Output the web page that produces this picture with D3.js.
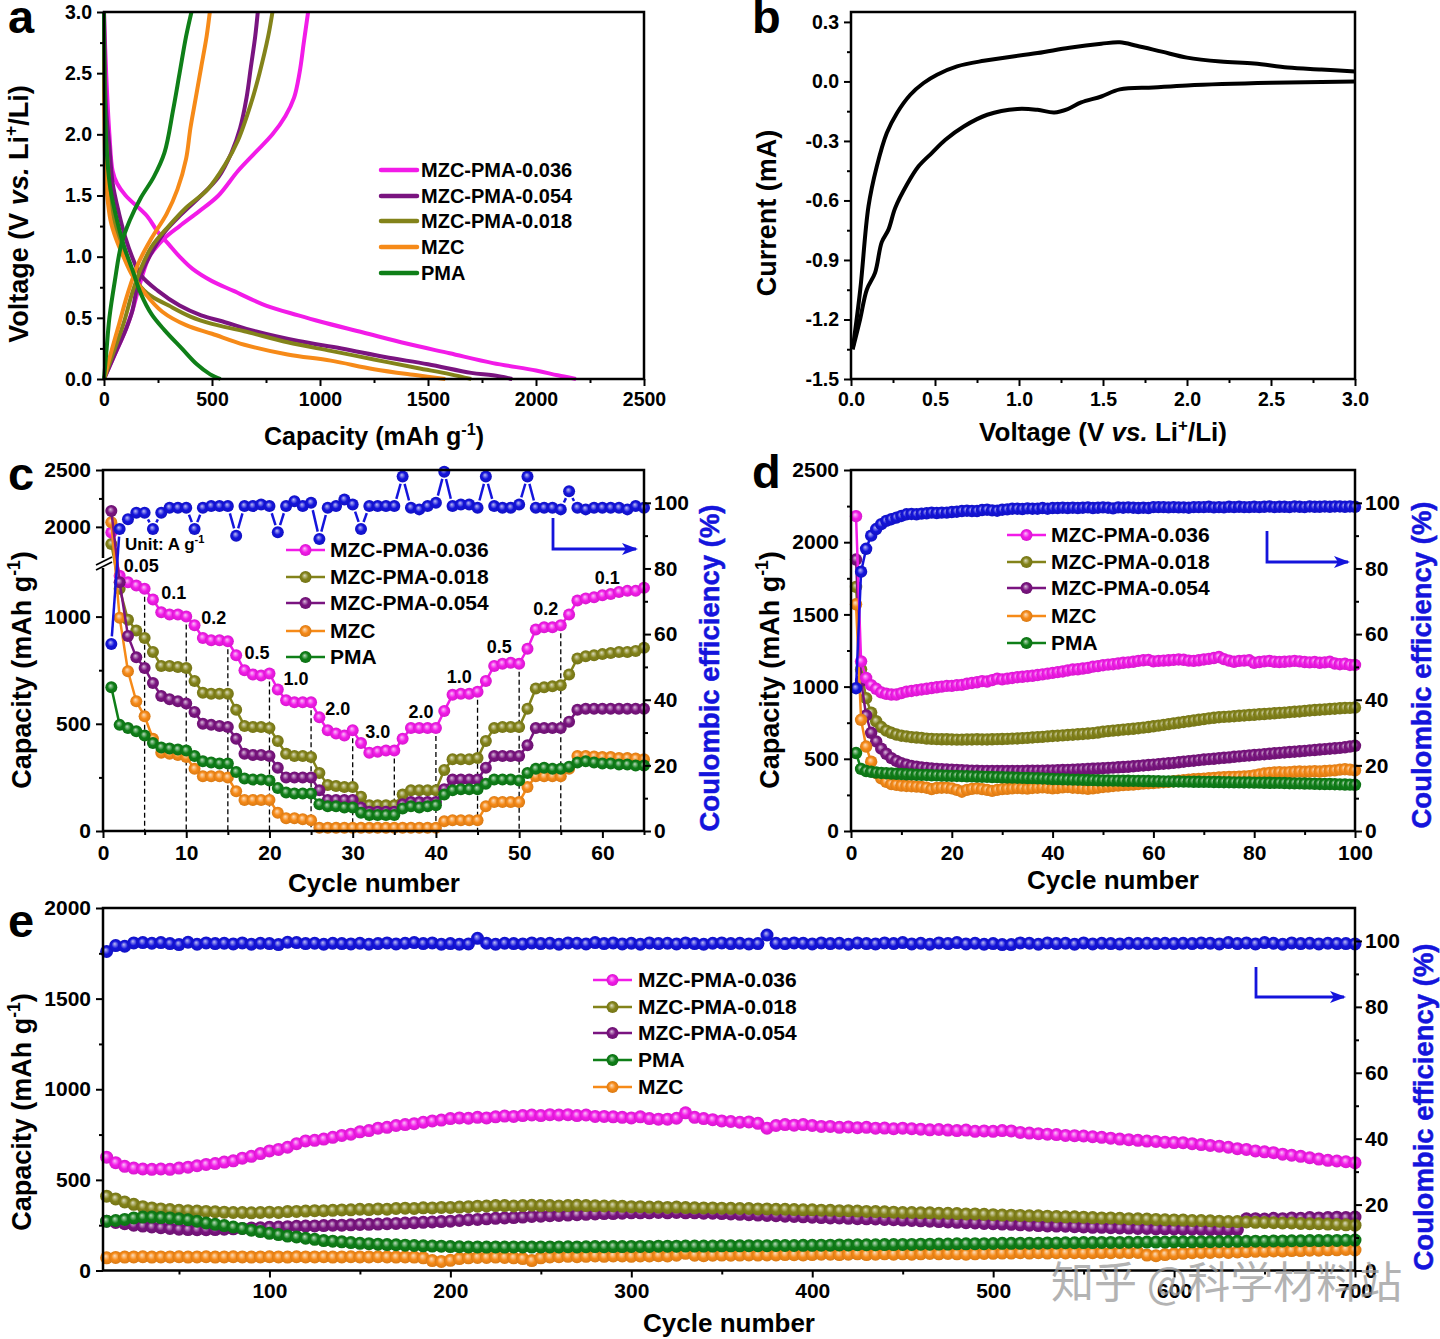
<!DOCTYPE html>
<html>
<head>
<meta charset="utf-8">
<script src="https://cdn.jsdelivr.net/npm/d3@7"></script>
<style>
  html, body { margin: 0; padding: 0; background: #fff; }
  text { font-family: "Liberation Sans", Arial, sans-serif; font-weight: bold; fill: #000; }
</style>
</head>
<body>
<div id="chart"></div>
<script>
// panel a: [capacity, voltage]
const aDis036 = [[0,3],[10,2.5],[25,2],[40,1.7],[60,1.6],[100,1.5],[200,1.33],[250,1.2],[300,1.1],[350,1],[410,0.9],[500,0.8],[600,0.72],[750,0.6],[900,0.52],[1000,0.47],[1200,0.38],[1400,0.29],[1600,0.21],[1800,0.13],[2000,0.07],[2100,0.03],[2185,0]];
const aCha036 = [[0,0],[50,0.2],[100,0.4],[130,0.55],[170,0.8],[210,1],[280,1.15],[350,1.25],[440,1.37],[530,1.5],[620,1.7],[700,1.85],[780,2],[840,2.15],[880,2.3],[905,2.5],[925,2.75],[945,3]];
const aDis054 = [[0,3],[10,2.2],[25,1.9],[40,1.6],[70,1.35],[100,1.15],[130,1],[170,0.85],[250,0.72],[350,0.6],[450,0.52],[550,0.47],[700,0.39],[900,0.31],[1100,0.25],[1300,0.18],[1500,0.12],[1700,0.05],[1800,0.03],[1890,0]];
const aCha054 = [[0,0],[50,0.2],[100,0.4],[130,0.55],[160,0.8],[210,1],[280,1.2],[360,1.35],[450,1.5],[530,1.65],[590,1.85],[630,2.05],[660,2.3],[680,2.55],[700,2.8],[712,3]];
const aDis018 = [[0,3],[5,2.1],[20,1.7],[35,1.4],[60,1.2],[100,0.98],[140,0.83],[200,0.7],[300,0.6],[400,0.51],[500,0.45],[650,0.39],[850,0.3],[1050,0.23],[1250,0.16],[1450,0.09],[1600,0.04],[1700,0]];
const aCha018 = [[0,0],[40,0.2],[90,0.45],[130,0.7],[170,0.9],[220,1.08],[300,1.25],[380,1.4],[480,1.55],[560,1.75],[620,1.95],[680,2.25],[720,2.5],[760,2.8],[780,3]];
const aDisMZC = [[0,3],[5,1.8],[15,1.5],[30,1.3],[55,1.15],[90,1],[130,0.85],[190,0.7],[270,0.55],[380,0.44],[500,0.37],[650,0.28],[850,0.2],[1050,0.15],[1250,0.08],[1450,0.03],[1580,0]];
const aChaMZC = [[0,0],[30,0.2],[70,0.45],[110,0.7],[160,0.95],[220,1.15],[290,1.35],[340,1.55],[380,1.8],[400,2.05],[425,2.3],[450,2.55],[475,2.8],[490,3]];
const aDisPMA = [[0,3],[5,2.2],[15,1.8],[30,1.55],[60,1.3],[90,1.1],[130,0.9],[170,0.7],[220,0.53],[280,0.4],[360,0.25],[430,0.12],[490,0.04],[540,0]];
const aChaPMA = [[0,0],[10,0.2],[25,0.5],[50,0.8],[80,1.1],[120,1.3],[170,1.48],[230,1.65],[280,1.85],[320,2.2],[350,2.5],[380,2.8],[405,3]];

// panel b: [voltage, current], the two branches of the CV loop
const cvUpper = [[0.01,-1.35],[0.055,-1.05],[0.104,-0.63],[0.153,-0.43],[0.213,-0.26],[0.273,-0.16],[0.353,-0.067],[0.432,-0.008],[0.512,0.034],[0.631,0.076],[0.79,0.104],[1.11,0.143],[1.3,0.17],[1.49,0.19],[1.6,0.197],[1.7,0.18],[1.85,0.15],[2,0.12],[2.2,0.1],[2.4,0.09],[2.6,0.07],[2.8,0.06],[3,0.05]];
const cvLower = [[3,0],[2.5,-0.007],[2,-0.02],[1.8,-0.03],[1.6,-0.04],[1.49,-0.076],[1.37,-0.106],[1.29,-0.139],[1.21,-0.156],[1.11,-0.143],[0.99,-0.139],[0.811,-0.168],[0.671,-0.227],[0.562,-0.294],[0.482,-0.36],[0.402,-0.428],[0.333,-0.52],[0.263,-0.638],[0.223,-0.747],[0.183,-0.81],[0.143,-0.965],[0.094,-1.05],[0.054,-1.2],[0.01,-1.35]];

// panel c: rate test, cycles 1-65
const c036 = [1950,1190,1160,1145,1130,1080,1020,1010,1010,1000,960,900,890,890,885,820,750,730,725,735,660,610,600,600,600,530,470,455,445,470,410,365,370,375,375,430,480,480,480,480,560,635,640,640,650,700,770,780,785,780,850,940,950,950,960,1010,1075,1085,1090,1100,1105,1115,1120,1120,1135];
const c018 = [1850,1130,985,935,900,835,770,770,765,760,700,645,640,640,640,565,490,485,485,480,420,360,350,350,345,270,215,210,205,205,160,120,120,120,120,170,190,190,190,190,285,335,335,335,340,420,480,485,485,485,570,665,670,675,680,730,805,815,820,825,830,835,835,840,855];
const c054 = [2140,1160,910,810,760,690,630,615,605,595,555,500,495,490,485,430,360,355,355,350,295,250,250,250,250,190,145,145,145,145,110,90,90,90,90,125,135,135,135,135,195,240,240,240,240,295,350,350,350,350,400,480,480,480,480,510,565,570,570,570,570,570,570,570,570];
const cMZC = [2040,995,745,605,535,430,365,360,355,345,290,255,255,255,250,185,145,145,145,145,85,60,60,55,50,15,15,15,15,15,15,15,15,15,15,15,15,15,15,15,45,50,50,50,50,115,135,135,135,135,205,255,255,255,255,290,350,350,348,345,345,340,340,338,335];
const cPMA = [670,495,480,465,445,410,390,385,380,375,350,325,320,315,315,275,245,240,240,235,200,180,175,175,175,125,115,115,110,110,85,75,75,75,75,105,115,110,115,120,170,190,195,195,195,220,240,240,240,235,270,290,295,290,290,300,320,325,320,315,315,310,310,305,305];
const cCE = [57,92,95,97,97,92,97,98.5,98.5,98.5,92,98.5,99,99,99,90,99,99,99.5,99,91,99,100.5,99,100,89,98.5,99,101,99.5,92,99,99,99,99,108,98.5,98,99,100,109.5,99,99.5,99.5,98.5,108,99,98.5,98.5,99.5,108,98.5,98.5,98.5,98,103.5,98.5,98,98.5,98.5,98.5,98.5,98,99,98.5];
const rateLabels = ['0.05','0.1','0.2','0.5','1.0','2.0','3.0','2.0','1.0','0.5','0.2','0.1'];
const rateCycles = [4.6,8.5,13.3,18.5,23.2,28.2,33,38.2,42.8,47.6,53.2,60.6];
const rateCaps = [1238,1112,995,832,710,570,463,556,720,860,1037,1182];
const rateSwitches = [5,10,15,20,25,30,35,40,45,50,55];

// panel d: cycling at low rate, cycles 1-100
const d036 = [2180,1175,1060,1010,985,960,950,945,945,955,
  965,970,975,980,985,990,995,1000,1005,1005,
  1010,1012,1020,1025,1030,1038,1035,1045,1055,1050,
  1055,1060,1065,1068,1072,1075,1080,1085,1090,1095,
  1100,1105,1112,1118,1120,1125,1130,1138,1142,1148,
  1152,1155,1160,1165,1168,1172,1178,1182,1185,1175,
  1178,1180,1182,1185,1188,1186,1180,1178,1182,1188,
  1192,1198,1205,1190,1180,1172,1178,1180,1182,1165,
  1170,1175,1178,1172,1170,1172,1175,1178,1175,1170,
  1168,1170,1165,1168,1172,1160,1155,1158,1150,1150];
const d018 = [1690,1120,920,820,760,720,695,680,668,660,
  655,650,647,645,640,638,636,635,635,634,
  633,633,634,634,635,634,634,635,636,637,
  638,640,641,643,645,648,650,652,655,658,
  660,662,665,667,670,672,675,678,682,688,
  692,695,698,702,705,708,712,716,720,725,
  730,735,740,745,750,755,760,765,770,775,
  780,784,788,790,792,795,798,800,803,805,
  808,810,813,815,818,820,823,826,828,832,
  835,838,840,842,845,847,850,852,853,855];
const d054 = [1880,1040,800,680,620,570,535,505,485,470,
  460,450,445,440,436,433,430,428,426,425,
  423,421,420,418,417,416,416,415,415,415,
  415,415,416,416,417,417,418,418,419,420,
  421,422,423,425,426,428,430,431,433,435,
  437,439,441,443,445,448,451,454,457,460,
  463,466,469,472,476,480,484,487,491,495,
  498,500,504,507,510,514,517,520,523,526,
  529,532,535,538,541,544,547,549,552,555,
  558,561,564,567,570,573,576,580,585,590];
const dMZC = [1570,770,585,480,400,365,340,325,320,315,
  312,310,308,305,300,290,298,300,300,295,
  285,272,285,292,295,290,285,278,285,290,
  292,295,298,296,294,298,300,302,300,296,
  298,302,305,300,298,296,292,296,300,305,
  308,312,315,318,320,322,325,328,330,332,
  335,338,340,345,348,352,355,358,360,362,
  365,368,370,372,374,375,376,378,380,385,
  392,398,402,405,408,405,408,410,412,410,
  412,414,412,415,418,420,425,428,425,420];
const dPMA = [540,430,415,410,405,402,400,398,396,395,
  393,392,390,389,388,386,385,384,383,382,
  381,380,379,378,377,376,375,374,373,372,
  371,370,369,368,367,366,365,364,362,360,
  359,358,357,356,355,354,353,352,351,350,
  350,349,349,348,348,347,347,346,346,345,
  345,344,344,343,343,342,342,341,341,340,
  340,339,339,338,338,337,337,336,336,335,
  335,334,334,333,333,332,331,330,330,329,
  328,327,326,325,325,324,323,322,321,320];
const dCE = [43.5,79,86,90,92,93.5,94.5,95,95.5,96,
  96.5,96.6,96.5,96.7,96.8,97,96.9,97,97,97.2,
  97.3,97.5,97.6,97.5,97.5,97.8,97.9,97.7,97.6,97.9,
  98,98.2,98.2,98.1,98.3,98.2,98.2,98.4,98.2,98.4,
  98.4,98.5,98.4,98.5,98.4,98.5,98.6,98.4,98.5,98.6,
  98.5,98.3,98.6,98.5,98.6,98.5,98.4,98.5,98.4,98.7,
  98.7,98.7,98.6,98.7,98.6,98.6,98.5,98.7,98.7,98.7,
  98.8,98.6,98.7,98.6,98.8,98.7,98.8,98.7,98.7,98.8,
  98.7,98.8,98.9,98.7,98.8,98.8,98.7,98.9,98.8,98.7,
  98.9,98.8,98.8,98.9,98.8,98.9,98.9,98.8,98.9,98.8];

// panel e: long cycling, read every 5th cycle from 10 to 700
const e036 = [625,595,575,565,560,558,560,558,565,570,
  578,585,590,598,605,620,630,645,660,668,
  680,700,715,718,725,735,745,752,765,772,
  785,790,800,805,810,818,825,830,838,842,
  840,845,842,848,852,850,855,858,855,860,
  858,860,855,858,850,850,848,845,842,848,
  838,835,835,840,870,845,838,832,825,822,
  818,820,812,785,800,805,802,805,800,795,
  795,790,792,788,790,785,786,782,785,782,
  780,776,778,775,772,775,768,770,768,772,
  770,762,758,755,752,750,745,744,742,738,
  735,730,725,722,718,714,712,708,706,705,
  700,695,690,686,680,672,668,660,655,650,
  642,636,630,622,615,608,604,600,595];
const e018 = [410,395,378,365,352,345,340,336,332,330,
  328,326,324,322,320,320,318,320,322,320,
  325,326,328,330,330,332,334,335,338,336,
  340,338,342,344,342,346,345,348,348,350,
  352,355,356,358,358,356,358,360,358,358,
  356,358,360,358,357,356,356,354,352,352,
  350,350,348,350,347,346,345,345,344,343,
  342,342,340,340,338,338,336,335,335,333,
  332,330,330,328,326,325,324,322,320,320,
  318,318,316,316,314,312,312,310,308,306,
  305,304,302,302,300,298,296,296,294,292,
  290,290,288,286,285,284,282,280,279,278,
  276,276,274,272,270,270,268,266,265,264,
  262,262,260,258,258,256,254,252,250];
const e054 = [272,265,258,250,245,240,236,232,228,226,
  225,225,226,228,230,232,234,236,238,240,
  242,244,245,246,248,250,250,252,254,255,
  256,258,260,262,264,266,268,270,272,276,
  280,282,285,288,290,292,295,298,300,302,
  304,306,308,310,312,314,314,316,318,318,
  318,320,318,320,318,318,316,316,314,312,
  310,308,306,304,302,300,298,296,294,292,
  290,290,288,286,285,284,282,280,278,276,
  274,272,270,268,266,264,262,260,258,256,
  255,252,250,248,246,245,244,242,240,238,
  238,236,235,234,232,232,230,230,229,228,
  228,227,226,226,225,225,285,286,284,288,
  286,290,288,292,290,292,294,292,295];
const ePMA = [272,276,282,290,295,295,292,290,285,280,
  272,262,255,248,240,232,222,215,205,198,
  190,185,178,172,165,162,158,154,150,148,
  145,143,142,140,138,136,135,134,132,131,
  130,130,129,130,129,130,130,129,130,130,
  130,131,130,131,132,131,132,132,133,133,
  133,134,134,134,135,135,135,135,136,136,
  136,137,137,137,138,138,138,139,139,140,
  140,141,141,142,142,142,143,143,144,144,
  145,145,146,146,147,147,148,148,149,150,
  150,150,151,151,152,152,153,153,154,154,
  155,155,155,156,156,157,157,157,158,158,
  158,159,159,160,160,161,161,162,162,163,
  163,164,164,165,165,166,166,167,168];
const eMZC = [70,72,74,75,76,74,75,75,76,74,
  75,76,74,75,76,75,74,75,76,75,
  74,76,75,75,76,74,75,76,75,75,
  76,75,74,75,74,70,55,50,56,66,
  70,72,72,74,72,70,66,55,70,75,
  76,78,76,78,80,78,80,80,78,80,
  80,82,80,84,95,84,82,84,85,84,
  85,86,85,86,86,88,87,86,88,90,
  90,88,90,92,88,90,92,90,92,90,
  92,94,92,94,92,90,92,94,95,96,
  96,98,96,98,96,98,97,98,97,98,
  99,98,100,99,100,85,82,88,92,95,
  98,100,100,102,100,102,104,106,106,108,
  108,110,110,112,112,114,114,116,113];
const eCE = [96.8,98.6,98.4,99.4,99.5,99.3,99.5,99.2,98.9,99.6,
  99,99.4,99.2,99.3,99.1,99.4,99,99.3,99.2,98.9,
  99.6,99.5,99.2,99.3,99,99.3,99.2,99.1,99.3,99,
  99.2,99.4,99.1,99.3,99.5,99.2,99.4,99,99.2,99,
  99.1,100.8,99.3,99,99.3,99.2,99.1,99.4,99.2,99.3,
  99,99.4,99.3,99.1,99.5,99.2,99.4,99.1,99.3,99,
  99.4,99.2,99.3,99.1,99.4,99.2,99,99.3,99.4,99.2,
  99.3,99.1,99.2,101.8,99.3,99.2,99.4,99.3,99.1,99.4,
  99.2,99.3,99,99.4,99.2,99.1,99.4,99.2,99.5,99.1,
  99.3,99,99.4,99.2,99.5,99.1,99.3,99,99.2,98.9,
  98.9,99.4,99.3,99,99.4,99.2,99.3,99,99.4,99.1,
  99.3,99.2,99.1,99.3,99.2,99.3,99.2,99.3,99.2,99.3,
  99.2,99.4,99.3,99.1,99.5,99.2,99.4,99.1,99.5,99.3,
  99,99.4,99.2,99.3,99.1,99.3,99.2,99.2,99.1];

const colors = { m036: '#f21be8', m018: '#83831a', m054: '#7a1480', mzc: '#f68a18', pma: '#0f7f18', ce: '#1414dc' };
const FONT_CJK = '"Noto Sans CJK SC", "Noto Sans", sans-serif';

const svg = d3.select('#chart').append('svg')
  .attr('width', 1440)
  .attr('height', 1339)
  .style('display', 'block');

// shaded ball used for all symbols
const defs = svg.append('defs');
Object.entries(colors).forEach(([key, c]) => {
  const grad = defs.append('radialGradient')
    .attr('id', `ball-${key}`)
    .attr('cx', '50%').attr('cy', '50%').attr('r', '50%')
    .attr('fx', '42%').attr('fy', '36%');
  grad.append('stop').attr('offset', '0%').attr('stop-color', d3.interpolateRgb(c, '#fff')(0.72));
  grad.append('stop').attr('offset', '55%').attr('stop-color', c);
  grad.append('stop').attr('offset', '100%').attr('stop-color', d3.color(c).darker(0.35));
});

function addAxis(scale, orient, translate, majors, minors, fmt, padding, fontSize = 21) {
  const make = { left: d3.axisLeft, right: d3.axisRight, bottom: d3.axisBottom }[orient];
  const g = svg.append('g').attr('transform', translate);
  g.append('g')
    .call(make(scale).tickValues(minors).tickSize(4).tickFormat(''))
    .call(a => a.select('.domain').remove())
    .call(a => a.selectAll('line').attr('stroke', '#000').attr('stroke-width', 2));
  g.append('g')
    .call(make(scale).tickValues(majors).tickSize(7).tickPadding(padding).tickFormat(fmt))
    .call(a => a.select('.domain').remove())
    .call(a => a.selectAll('line').attr('stroke', '#000').attr('stroke-width', 2))
    .call(a => a.selectAll('text').style('font-size', fontSize + 'px').attr('fill', '#000'));
}

function drawFrame(x0, x1, y0, y1) {
  svg.append('rect')
    .attr('x', x0).attr('y', y1)
    .attr('width', x1 - x0).attr('height', y0 - y1)
    .attr('fill', 'none').attr('stroke', '#000').attr('stroke-width', 2.5);
}

// text with italic and superscript runs; parts are strings or {t, sup, it}
function richText(x, y, parts, size, opts = {}) {
  const t = svg.append('text')
    .attr('transform', `translate(${x},${y}) rotate(${opts.rotate || 0})`)
    .attr('text-anchor', opts.anchor || 'middle')
    .style('font-size', size + 'px')
    .style('fill', opts.fill || '#000')
    .style('stroke', opts.heavy ? (opts.fill || '#000') : 'none')
    .style('stroke-width', opts.heavy ? 0.5 : 0);
  let afterSup = false;
  parts.forEach(p => {
    const part = typeof p === 'string' ? { t: p } : p;
    const span = t.append('tspan').text(part.t);
    if (part.it) span.style('font-style', 'italic');
    if (part.sup) {
      span.attr('dy', -size * 0.4).style('font-size', (size * 0.65) + 'px');
      afterSup = true;
    } else if (afterSup) {
      span.attr('dy', size * 0.4);
      afterSup = false;
    }
  });
  return t;
}

function panelLetter(letter, x, y) {
  svg.append('text').attr('x', x).attr('y', y).text(letter).style('font-size', '47px');
}

function drawLine(points, xs, ys, color, width, curve) {
  const line = d3.line().x(d => xs(d[0])).y(d => ys(d[1]));
  if (curve) line.curve(curve);
  svg.append('path')
    .datum(points)
    .attr('fill', 'none')
    .attr('stroke', color)
    .attr('stroke-width', width)
    .attr('stroke-linejoin', 'round')
    .attr('d', line);
}

function drawSeries(cycles, values, xs, ys, key, r) {
  const pts = cycles.map((c, i) => [c, values[i]]);
  drawLine(pts, xs, ys, colors[key], 2.5);
  svg.append('g').selectAll('circle')
    .data(pts)
    .join('circle')
    .attr('cx', d => xs(d[0]))
    .attr('cy', d => ys(d[1]))
    .attr('r', r)
    .attr('fill', `url(#ball-${key})`);
}

// same, but the line stops short of each symbol as in the source plot
function drawGapSeries(cycles, values, xs, ys, key, r, gap) {
  const pts = cycles.map((c, i) => [xs(c), ys(values[i])]);
  const segs = d3.pairs(pts).filter(([a, b]) => Math.hypot(b[0] - a[0], b[1] - a[1]) > 2 * (r + gap));
  svg.append('g').selectAll('line')
    .data(segs)
    .join('line')
    .attr('stroke', colors[key])
    .attr('stroke-width', 2.5)
    .each(function([a, b]) {
      const len = Math.hypot(b[0] - a[0], b[1] - a[1]);
      const ux = (b[0] - a[0]) / len, uy = (b[1] - a[1]) / len;
      d3.select(this)
        .attr('x1', a[0] + ux * (r + gap)).attr('y1', a[1] + uy * (r + gap))
        .attr('x2', b[0] - ux * (r + gap)).attr('y2', b[1] - uy * (r + gap));
    });
  svg.append('g').selectAll('circle')
    .data(pts)
    .join('circle')
    .attr('cx', d => d[0]).attr('cy', d => d[1]).attr('r', r)
    .attr('fill', `url(#ball-${key})`);
}

function legend(entries, x0, x1, textX, ys, size, markerR) {
  entries.forEach((e, i) => {
    svg.append('line')
      .attr('x1', x0).attr('x2', x1).attr('y1', ys[i]).attr('y2', ys[i])
      .attr('stroke', colors[e[1]])
      .attr('stroke-width', markerR ? 2.5 : 4.5)
      .attr('stroke-linecap', markerR ? 'butt' : 'round');
    if (markerR) {
      svg.append('circle')
        .attr('cx', (x0 + x1) / 2).attr('cy', ys[i]).attr('r', markerR)
        .attr('fill', `url(#ball-${e[1]})`);
    }
    svg.append('text')
      .attr('x', textX).attr('y', ys[i]).attr('dy', '0.35em')
      .text(e[0]).style('font-size', size + 'px');
  });
}

function arrow(x, y0, y1, x1, color) {
  svg.append('path')
    .attr('d', `M${x},${y0}V${y1}H${x1}`)
    .attr('fill', 'none').attr('stroke', color).attr('stroke-width', 2.8);
  svg.append('path')
    .attr('d', `M${x1 + 2},${y1}L${x1 - 14},${y1 - 6}L${x1 - 10},${y1}L${x1 - 14},${y1 + 6}Z`)
    .attr('fill', color);
}

const smooth = d3.curveCatmullRom.alpha(0.5);

// ---- panel a
const xA = d3.scaleLinear().domain([0, 2500]).range([104, 644]);
const yA = d3.scaleLinear().domain([0, 3]).range([379, 12]);
[[aDis036, aCha036, 'm036'], [aDis054, aCha054, 'm054'], [aDis018, aCha018, 'm018'], [aDisMZC, aChaMZC, 'mzc'], [aDisPMA, aChaPMA, 'pma']]
  .forEach(([dis, cha, key]) => {
    drawLine(dis, xA, yA, colors[key], 4, smooth);
    drawLine(cha, xA, yA, colors[key], 4, smooth);
  });
drawFrame(104, 644, 379, 12);
addAxis(xA, 'bottom', 'translate(0,379)', [0, 500, 1000, 1500, 2000, 2500], [250, 750, 1250, 1750, 2250], d => d, 6, 19.5);
addAxis(yA, 'left', 'translate(104,0)', [0, 0.5, 1, 1.5, 2, 2.5, 3], [0.25, 0.75, 1.25, 1.75, 2.25, 2.75], d => d.toFixed(1), 5, 19.5);
legend([['MZC-PMA-0.036', 'm036'], ['MZC-PMA-0.054', 'm054'], ['MZC-PMA-0.018', 'm018'], ['MZC', 'mzc'], ['PMA', 'pma']],
  381, 417, 421, [170, 196, 221, 247, 273], 20);
richText(374, 445, ['Capacity (mAh g', { t: '-1', sup: true }, ')'], 25);
richText(28, 214, ['Voltage (V ', { t: 'vs.', it: true }, ' Li', { t: '+', sup: true }, '/Li)'], 27, { rotate: -90 });
panelLetter('a', 8, 33);

// ---- panel b
const xB = d3.scaleLinear().domain([0, 3]).range([851, 1355]);
const yB = d3.scaleLinear().domain([-1.5, 0.35]).range([379, 12]);
drawLine(cvUpper, xB, yB, '#000', 4, smooth);
drawLine(cvLower, xB, yB, '#000', 4, smooth);
drawFrame(851, 1355, 379, 12);
addAxis(xB, 'bottom', 'translate(0,379)', [0, 0.5, 1, 1.5, 2, 2.5, 3], [0.25, 0.75, 1.25, 1.75, 2.25, 2.75], d => d.toFixed(1), 6, 19.5);
addAxis(yB, 'left', 'translate(851,0)', [-1.5, -1.2, -0.9, -0.6, -0.3, 0, 0.3], [-1.35, -1.05, -0.75, -0.45, -0.15, 0.15], d => d.toFixed(1), 5, 19.5);
richText(1103, 441, ['Voltage (V ', { t: 'vs.', it: true }, ' Li', { t: '+', sup: true }, '/Li)'], 26);
richText(776, 213, ['Current (mA)'], 27, { rotate: -90 });
panelLetter('b', 752, 33);

// ---- panel c, capacity axis is broken between 1250 and 1700
const xC = d3.scaleLinear().domain([0, 65]).range([103, 644]);
const yC = d3.scaleLinear().domain([0, 1250, 1700, 2500]).range([831, 563, 561, 470]);
const yCE = d3.scaleLinear().domain([0, 110]).range([831, 470]);
const cyclesC = d3.range(1, 66);
rateSwitches.forEach(c => {
  svg.append('line')
    .attr('x1', xC(c)).attr('x2', xC(c))
    .attr('y1', yC(c036[c - 1])).attr('y2', yC(0))
    .attr('stroke', '#000').attr('stroke-width', 1.3).attr('stroke-dasharray', '5,3');
});
drawSeries(cyclesC, c018, xC, yC, 'm018', 6);
drawSeries(cyclesC, c036, xC, yC, 'm036', 6);
drawSeries(cyclesC, cMZC, xC, yC, 'mzc', 6);
drawSeries(cyclesC, c054, xC, yC, 'm054', 6);
drawSeries(cyclesC, cPMA, xC, yC, 'pma', 6);
drawGapSeries(cyclesC, cCE, xC, yCE, 'ce', 6, 1.5);
// frame with the break marks on the left side
svg.append('path')
  .attr('d', `M${xC(0)},${yC(1250) - 5}V470H644V831H${xC(0)}V${yC(1250) + 5}`)
  .attr('fill', 'none').attr('stroke', '#000').attr('stroke-width', 2.5);
[-2, 3].forEach(dy => {
  svg.append('line')
    .attr('x1', xC(0) - 7).attr('x2', xC(0) + 9)
    .attr('y1', yC(1250) + 4 + dy).attr('y2', yC(1250) - 4 + dy)
    .attr('stroke', '#000').attr('stroke-width', 1.8);
});
addAxis(xC, 'bottom', 'translate(0,831)', [0, 10, 20, 30, 40, 50, 60], [5, 15, 25, 35, 45, 55, 65], d => d, 7);
addAxis(yC, 'left', 'translate(103,0)', [0, 500, 1000, 2000, 2500], [250, 750, 2250], d => d, 5);
addAxis(yCE, 'right', 'translate(644,0)', [0, 20, 40, 60, 80, 100], [10, 30, 50, 70, 90], d => d, 3);
rateLabels.forEach((label, i) => {
  svg.append('text')
    .attr('x', xC(rateCycles[i])).attr('y', yC(rateCaps[i])).attr('dy', '0.35em')
    .attr('text-anchor', 'middle')
    .text(label).style('font-size', '18px');
});
richText(125, 550, ['Unit: A g', { t: '-1', sup: true }], 17, { anchor: 'start' });
arrow(553, 518, 549, 636, colors.ce);
legend([['MZC-PMA-0.036', 'm036'], ['MZC-PMA-0.018', 'm018'], ['MZC-PMA-0.054', 'm054'], ['MZC', 'mzc'], ['PMA', 'pma']],
  286, 325, 330, [550, 577, 603, 631, 657], 21, 6);
richText(374, 892, ['Cycle number'], 26);
richText(31, 670, ['Capacity (mAh g', { t: '-1', sup: true }, ')'], 27, { rotate: -90 });
richText(719, 668, ['Coulombic efficiency (%)'], 27.5, { rotate: -90, fill: colors.ce, heavy: true });
panelLetter('c', 8, 490);

// ---- panel d
const xD = d3.scaleLinear().domain([0, 100]).range([851, 1355]);
const yD = d3.scaleLinear().domain([0, 2500]).range([831, 470]);
const yDE = d3.scaleLinear().domain([0, 110]).range([831, 470]);
const cyclesD = d3.range(1, 101);
drawSeries(cyclesD, d018, xD, yD, 'm018', 6.2);
drawSeries(cyclesD, d054, xD, yD, 'm054', 6.2);
drawSeries(cyclesD, dMZC, xD, yD, 'mzc', 6.2);
drawSeries(cyclesD, dPMA, xD, yD, 'pma', 6.2);
drawSeries(cyclesD, d036, xD, yD, 'm036', 6.2);
drawSeries(cyclesD, dCE, xD, yDE, 'ce', 6.2);
drawFrame(851, 1355, 831, 470);
addAxis(xD, 'bottom', 'translate(0,831)', [0, 20, 40, 60, 80, 100], [10, 30, 50, 70, 90], d => d, 7);
addAxis(yD, 'left', 'translate(851,0)', [0, 500, 1000, 1500, 2000, 2500], [250, 750, 1250, 1750, 2250], d => d, 5);
addAxis(yDE, 'right', 'translate(1355,0)', [0, 20, 40, 60, 80, 100], [10, 30, 50, 70, 90], d => d, 3);
arrow(1267, 531, 562, 1348, colors.ce);
legend([['MZC-PMA-0.036', 'm036'], ['MZC-PMA-0.018', 'm018'], ['MZC-PMA-0.054', 'm054'], ['MZC', 'mzc'], ['PMA', 'pma']],
  1007, 1046, 1051, [535, 562, 588, 616, 643], 21, 6);
richText(1113, 889, ['Cycle number'], 26);
richText(779, 670, ['Capacity (mAh g', { t: '-1', sup: true }, ')'], 27, { rotate: -90 });
richText(1431, 665, ['Coulombic efficiency (%)'], 27.5, { rotate: -90, fill: colors.ce, heavy: true });
panelLetter('d', 752, 488);

// ---- panel e
const xE = d3.scaleLinear().domain([8, 700]).range([103, 1355]);
const yE = d3.scaleLinear().domain([0, 2000]).range([1270.5, 908]);
const yEE = d3.scaleLinear().domain([0, 110]).range([1270.5, 908]);
const cyclesE = d3.range(10, 701, 5);
drawSeries(cyclesE, e054, xE, yE, 'm054', 6.5);
drawSeries(cyclesE, e018, xE, yE, 'm018', 6.5);
drawSeries(cyclesE, eMZC, xE, yE, 'mzc', 6.5);
drawSeries(cyclesE, ePMA, xE, yE, 'pma', 6.5);
drawSeries(cyclesE, e036, xE, yE, 'm036', 6.5);
drawSeries(cyclesE, eCE, xE, yEE, 'ce', 6.5);
drawFrame(103, 1355, 1270.5, 908);
addAxis(xE, 'bottom', 'translate(0,1270.5)', [100, 200, 300, 400, 500, 600, 700], [50, 150, 250, 350, 450, 550, 650], d => d, 6);
addAxis(yE, 'left', 'translate(103,0)', [0, 500, 1000, 1500, 2000], [250, 750, 1250, 1750], d => d, 5);
addAxis(yEE, 'right', 'translate(1355,0)', [0, 20, 40, 60, 80, 100], [10, 30, 50, 70, 90], d => d, 3);
arrow(1256, 967, 997, 1344, colors.ce);
legend([['MZC-PMA-0.036', 'm036'], ['MZC-PMA-0.018', 'm018'], ['MZC-PMA-0.054', 'm054'], ['PMA', 'pma'], ['MZC', 'mzc']],
  593, 632, 638, [980, 1007, 1033, 1060, 1087], 21, 6);
richText(729, 1332, ['Cycle number'], 26);
richText(31, 1112, ['Capacity (mAh g', { t: '-1', sup: true }, ')'], 27, { rotate: -90 });
richText(1433, 1107, ['Coulombic efficiency (%)'], 27.5, { rotate: -90, fill: colors.ce, heavy: true });
panelLetter('e', 8, 937);

// watermark from the source image
svg.append('text')
  .attr('x', 1051).attr('y', 1298)
  .text('知乎 @科学材料站')
  .style('font-family', FONT_CJK)
  .style('font-weight', 'normal')
  .style('font-size', '43px')
  .style('fill', '#9a9a9a')
  .style('opacity', 0.75);
</script>
</body>
</html>
